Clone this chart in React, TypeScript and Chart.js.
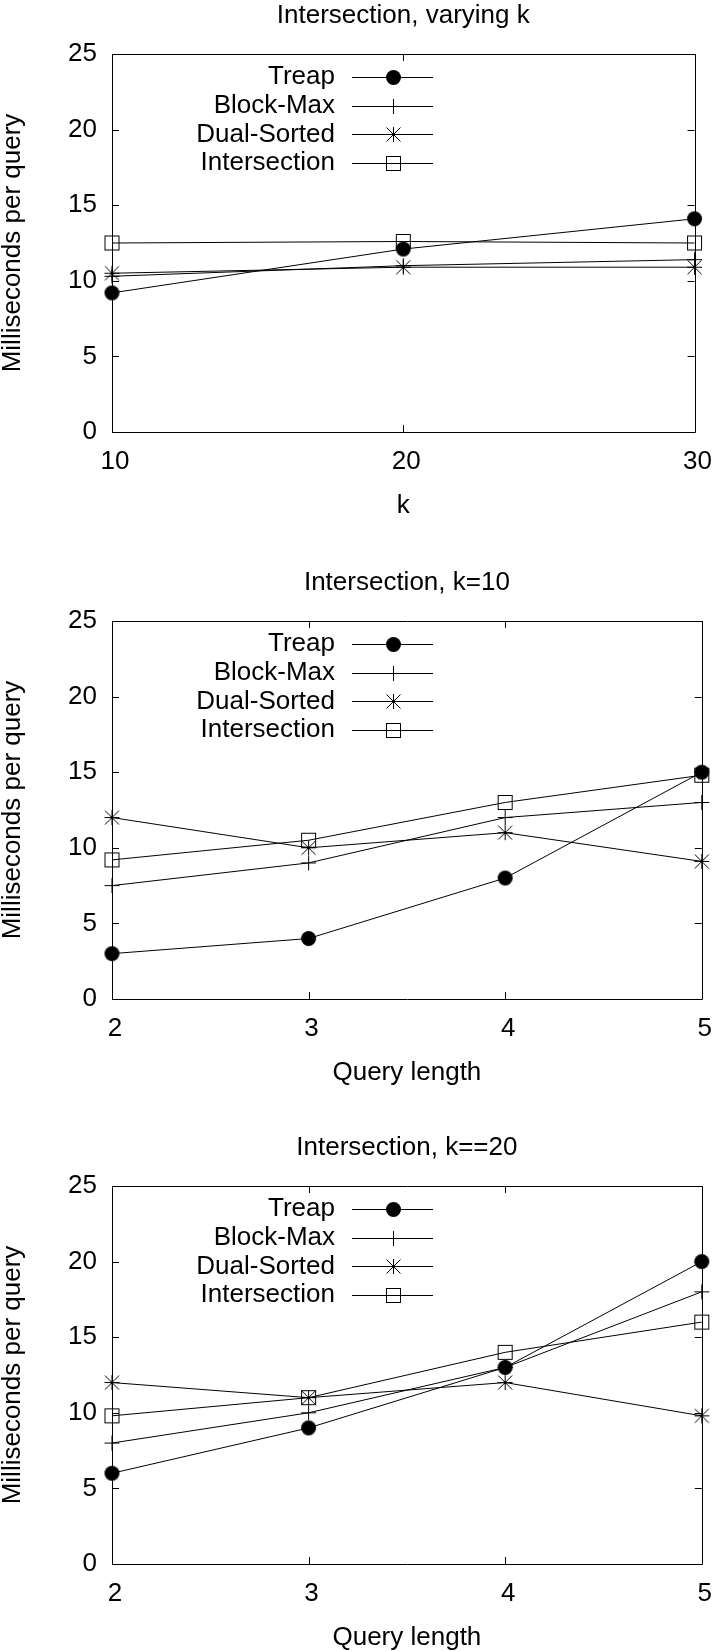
import React, { useEffect, useRef } from 'react';
import { Chart, registerables } from 'chart.js';

Chart.register(...registerables);

// ---------- data ----------
const seriesNames = ['Treap', 'Block-Max', 'Dual-Sorted', 'Intersection'];
const markerKinds = ['circle', 'plus', 'star', 'square'];

const kValues = [10, 20, 30];
const kTreap = [9.2, 12.1, 14.1];
const kBlockMax = [10.3, 11.0, 11.4];
const kDualSorted = [10.5, 10.9, 10.9];
const kIntersection = [12.5, 12.6, 12.5];

const queryLengths = [2, 3, 4, 5];
const k10Treap = [3, 4, 8, 15];
const k10BlockMax = [7.5, 9, 12, 13];
const k10DualSorted = [12, 10, 11, 9.1];
const k10Intersection = [9.2, 10.5, 13, 14.8];

const k20Treap = [6, 9, 13, 20];
const k20BlockMax = [8, 10, 13, 18];
const k20DualSorted = [12, 11, 12, 9.8];
const k20Intersection = [9.8, 11, 14, 16];

const yMin = 0;
const yMax = 25;
const yStep = 5;

const panels = [
  {
    title: 'Intersection, varying k',
    xTitle: 'k',
    xs: kValues,
    xMin: 10,
    xMax: 30,
    xStep: 10,
    series: [kTreap, kBlockMax, kDualSorted, kIntersection],
    top: 0,
  },
  {
    title: 'Intersection, k=10',
    xTitle: 'Query length',
    xs: queryLengths,
    xMin: 2,
    xMax: 5,
    xStep: 1,
    series: [k10Treap, k10BlockMax, k10DualSorted, k10Intersection],
    top: 567,
  },
  {
    title: 'Intersection, k==20',
    xTitle: 'Query length',
    xs: queryLengths,
    xMin: 2,
    xMax: 5,
    xStep: 1,
    series: [k20Treap, k20BlockMax, k20DualSorted, k20Intersection],
    top: 1132,
  },
];

// ---------- styling ----------
const W = 723;
const H = 567;
const FONT = 'Liberation Sans, Arial, sans-serif';
const FS = 26;

function makeMarker(kind: string): HTMLCanvasElement {
  const c = document.createElement('canvas');
  c.width = 17;
  c.height = 17;
  const g = c.getContext('2d')!;
  g.strokeStyle = '#000';
  g.fillStyle = '#000';
  g.lineWidth = 1;
  const m = 8.5;
  if (kind === 'circle') {
    g.beginPath();
    g.arc(m, m, 7.5, 0, Math.PI * 2);
    g.fill();
  } else if (kind === 'plus' || kind === 'star') {
    g.beginPath();
    g.moveTo(m, 1);
    g.lineTo(m, 16);
    g.moveTo(1, m);
    g.lineTo(16, m);
    if (kind === 'star') {
      g.moveTo(1.5, 1.5);
      g.lineTo(15.5, 15.5);
      g.moveTo(15.5, 1.5);
      g.lineTo(1.5, 15.5);
    }
    g.stroke();
  } else if (kind === 'square') {
    g.strokeRect(1.5, 1.5, 14, 14);
  }
  return c;
}

const framePlugin = {
  id: 'gnuFrame',
  beforeDatasetsDraw(chart: any) {
    const { ctx, chartArea: a, scales } = chart;
    const opts = chart.options.plugins.gnuFrame;
    ctx.save();
    ctx.strokeStyle = '#000';
    ctx.lineWidth = 1;
    ctx.beginPath();
    ctx.rect(Math.round(a.left) + 0.5, Math.round(a.top) + 0.5, Math.round(a.right - a.left), Math.round(a.bottom - a.top));
    ctx.stroke();
    const tl = 7;
    ctx.beginPath();
    scales.x.ticks.forEach((t: any) => {
      const px = Math.round(scales.x.getPixelForValue(t.value)) + 0.5;
      ctx.moveTo(px, a.bottom);
      ctx.lineTo(px, a.bottom - tl);
      ctx.moveTo(px, a.top);
      ctx.lineTo(px, a.top + tl);
    });
    scales.y.ticks.forEach((t: any) => {
      const py = Math.round(scales.y.getPixelForValue(t.value)) + 0.5;
      ctx.moveTo(a.left, py);
      ctx.lineTo(a.left + tl, py);
      ctx.moveTo(a.right, py);
      ctx.lineTo(a.right - tl, py);
    });
    ctx.stroke();

    // title
    ctx.fillStyle = '#000';
    ctx.font = `${FS}px ${FONT}`;
    ctx.textAlign = 'center';
    ctx.textBaseline = 'alphabetic';
    ctx.fillText(opts.title, (a.left + a.right) / 2, 23);
    ctx.restore();
  },
  afterDatasetsDraw(chart: any) {
    const { ctx, chartArea: a } = chart;
    ctx.save();
    ctx.font = `${FS}px ${FONT}`;
    ctx.fillStyle = '#000';
    ctx.strokeStyle = '#000';
    ctx.lineWidth = 1;
    ctx.textAlign = 'right';
    ctx.textBaseline = 'middle';
    chart.data.datasets.forEach((ds: any, i: number) => {
      const y = a.top + 23 + i * 28.7;
      ctx.fillText(ds.label, a.left + 223, y);
      const yl = Math.round(y) + 0.5;
      ctx.beginPath();
      ctx.moveTo(a.left + 240, yl);
      ctx.lineTo(a.left + 321, yl);
      ctx.stroke();
      const img = ds.pointStyle as HTMLCanvasElement;
      ctx.drawImage(img, Math.round(a.left + 281) - img.width / 2 + 0.5, Math.round(y) - img.height / 2 + 0.5);
    });
    ctx.restore();
  },
};

function Panel({ p }: { p: (typeof panels)[number] }) {
  const ref = useRef<HTMLCanvasElement | null>(null);
  useEffect(() => {
    if (!ref.current) return;
    const markers = markerKinds.map(makeMarker);
    const chart = new Chart(ref.current, {
      type: 'line',
      data: {
        datasets: p.series.map((vals, i) => ({
          label: seriesNames[i],
          data: p.xs.map((x, j) => ({ x, y: vals[j] })),
          borderColor: '#000',
          backgroundColor: '#000',
          borderWidth: 1,
          pointStyle: markers[i] as any,
          pointRadius: 8,
          pointHoverRadius: 8,
          fill: false,
          tension: 0,
          clip: false as any,
        })),
      },
      options: {
        animation: false,
        responsive: false,
        devicePixelRatio: 1,
        events: [],
        layout: { padding: { top: 54, right: 20, left: 0, bottom: 0 } },
        plugins: {
          legend: { display: false },
          tooltip: { enabled: false },
          title: { display: false },
          gnuFrame: { title: p.title },
        } as any,
        scales: {
          x: {
            type: 'linear',
            min: p.xMin,
            max: p.xMax,
            grid: { display: false, drawTicks: false },
            border: { display: false },
            ticks: {
              stepSize: p.xStep,
              autoSkip: false,
              color: '#000',
              padding: 14,
              labelOffset: 3,
              font: { family: FONT, size: FS },
            },
            title: {
              display: true,
              text: p.xTitle,
              color: '#000',
              font: { family: FONT, size: FS, lineHeight: 1.2 },
              padding: { top: 0, bottom: 46 },
            },
            afterFit: (s: any) => {
              s.height = 135;
            },
          },
          y: {
            type: 'linear',
            min: yMin,
            max: yMax,
            grid: { display: false, drawTicks: false },
            border: { display: false },
            ticks: {
              stepSize: yStep,
              color: '#000',
              padding: 15,
              font: { family: FONT, size: FS },
            },
            title: {
              display: true,
              text: 'Milliseconds per query',
              color: '#000',
              font: { family: FONT, size: FS, lineHeight: 1 },
              padding: 0,
            },
            afterFit: (s: any) => {
              s.width = 112;
            },
          },
        },
      },
      plugins: [framePlugin],
    });
    return () => chart.destroy();
  }, [p]);
  return (
    <canvas
      ref={ref}
      width={W}
      height={H}
      style={{ position: 'absolute', left: 0, top: p.top, width: W, height: H, display: 'block' }}
    />
  );
}

export default function App() {
  return (
    <div
      style={{
        position: 'absolute',
        left: 0,
        top: 0,
        width: W,
        height: 1651,
        overflow: 'hidden',
        background: '#fff',
      }}
    >
      {panels.map((p, i) => (
        <Panel key={i} p={p} />
      ))}
    </div>
  );
}
